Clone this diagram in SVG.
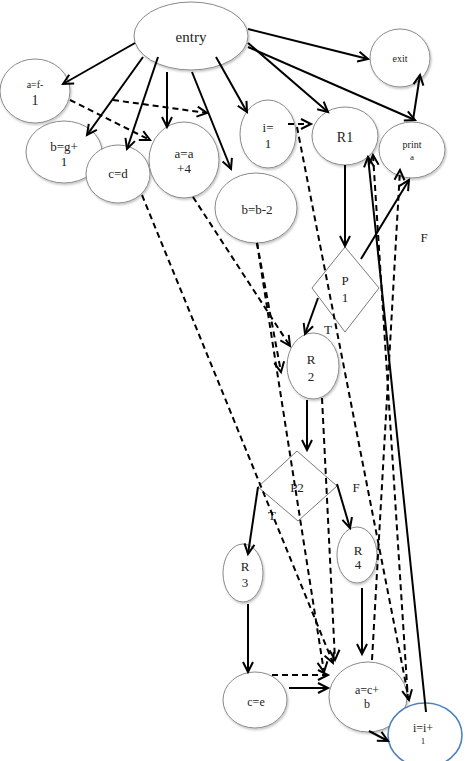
<svg xmlns="http://www.w3.org/2000/svg" width="474" height="761" viewBox="0 0 474 761">
<style>
.n{fill:#fff;stroke:#8a8a8a;stroke-width:1;filter:url(#sh)}
.d{fill:#fff;stroke:#7a7a7a;stroke-width:1}
.b{fill:#fff;stroke:#4f81bd;stroke-width:1.6}
text{font-family:"Liberation Serif","Times New Roman",serif;fill:#222;text-anchor:middle}
.s{stroke:#000;stroke-width:2;fill:none;marker-end:url(#a)}
.ds{stroke:#000;stroke-width:2;fill:none;stroke-dasharray:6 4;marker-end:url(#a)}
</style>
<defs>
<filter id="sh" x="-20%" y="-20%" width="140%" height="140%"><feDropShadow dx="1" dy="1.5" stdDeviation="1" flood-color="#000" flood-opacity="0.25"/></filter>
<marker id="a" viewBox="0 0 12 12" refX="11" refY="6" markerWidth="12" markerHeight="12" markerUnits="userSpaceOnUse" orient="auto" overflow="visible"><path d="M1,1 L11,6 L1,11" fill="none" stroke="#000" stroke-width="2"/></marker>
</defs>
<rect width="474" height="761" fill="#fff"/>
<g id="entry"><ellipse class="n" cx="191" cy="36" rx="57" ry="34"/><text x="191" y="42" font-size="15">entry</text></g>
<g id="exit"><ellipse class="n" cx="400" cy="58" rx="30" ry="29"/><text x="400" y="62" font-size="10">exit</text></g>
<g id="afm1"><ellipse class="n" cx="35" cy="91" rx="35" ry="32"/><text x="35" y="88" font-size="10">a=f-</text><text x="35" y="105" font-size="14">1</text></g>
<g id="bgp1"><ellipse class="n" cx="64" cy="152" rx="38" ry="31"/><text x="64" y="151" font-size="13">b=g+</text><text x="64" y="166" font-size="13">1</text></g>
<g id="cd"><ellipse class="n" cx="118" cy="174" rx="32" ry="29"/><text x="118" y="178" font-size="13">c=d</text></g>
<g id="aap4"><ellipse class="n" cx="184" cy="160" rx="35" ry="38"/><text x="184" y="158" font-size="13">a=a</text><text x="184" y="173" font-size="13">+4</text></g>
<g id="i1"><ellipse class="n" cx="268" cy="134" rx="28" ry="34"/><text x="268" y="132" font-size="13">i=</text><text x="268" y="148" font-size="13">1</text></g>
<g id="R1"><ellipse class="n" cx="345" cy="136" rx="33" ry="29"/><text x="345" y="142" font-size="14">R1</text></g>
<g id="printa"><ellipse class="n" cx="412" cy="150" rx="33" ry="28"/><text x="412" y="148" font-size="10">print</text><text x="412" y="160" font-size="9">a</text></g>
<g id="bbm2"><ellipse class="n" cx="256" cy="208" rx="41" ry="35"/><text x="257" y="214" font-size="13">b=b-2</text></g>
<g id="P1"><polygon class="d" points="345,247 379,288 345,332 312,288"/><text x="345" y="285" font-size="13">P</text><text x="345" y="302" font-size="13">1</text></g>
<g id="R2"><ellipse class="n" cx="313" cy="366" rx="26" ry="33"/><text x="311" y="364" font-size="13">R</text><text x="311" y="381" font-size="13">2</text></g>
<g id="P2"><polygon class="d" points="297,451 337,486 298,521 258,487"/><text x="297" y="492" font-size="13">P2</text></g>
<g id="R3"><ellipse class="n" cx="243" cy="573" rx="20" ry="29"/><text x="245" y="571" font-size="13">R</text><text x="245" y="587" font-size="13">3</text></g>
<g id="R4"><ellipse class="n" cx="357" cy="555" rx="20" ry="28"/><text x="358" y="555" font-size="13">R</text><text x="358" y="569" font-size="13">4</text></g>
<g id="ce"><ellipse class="n" cx="255" cy="700" rx="32" ry="28"/><text x="256" y="706" font-size="12">c=e</text></g>
<g id="acpb"><ellipse class="n" cx="368" cy="697" rx="39" ry="35"/><text x="367" y="694" font-size="12">a=c+</text><text x="367" y="708" font-size="12">b</text></g>
<g id="iip1"><ellipse class="b" cx="425" cy="735" rx="37" ry="32"/><text x="423" y="732" font-size="12">i=i+</text><text x="423" y="744" font-size="9">1</text></g>
<g id="labels"><text x="328" y="334" font-size="13">T</text><text x="424" y="242" font-size="13">F</text><text x="272" y="520" font-size="13">T</text><text x="356" y="492" font-size="13">F</text></g>
<g id="connectors">
<path class="s" d="M135,43 L63,84"/>
<path class="s" d="M143,57 L87,135"/>
<path class="s" d="M158,57 L127,149"/>
<path class="s" d="M167,72 L167,127"/>
<path class="s" d="M192,72 L231,169"/>
<path class="s" d="M216,57 L247,112"/>
<path class="s" d="M248,43 L328,112"/>
<path class="s" d="M248,47 L415,120"/>
<path class="s" d="M248,29 L368,59"/>
<path class="s" d="M413,120 L420,75"/>
<path class="s" d="M345,165 L345,246"/>
<path class="s" d="M361,259 L409,180"/>
<path class="s" d="M318,298 L305,334"/>
<path class="s" d="M307,400 L307,450"/>
<path class="s" d="M258,487 L248,554"/>
<path class="s" d="M337,484 L350,528"/>
<path class="s" d="M248,604 L248,672"/>
<path class="s" d="M362,588 L362,654"/>
<path class="s" d="M289,688 L328,688"/>
<path class="s" d="M369,731 L388,741"/>
<path class="s" d="M426,712 L368,157"/>
<path class="ds" d="M70,100 L150,140"/>
<path class="ds" d="M113,100 L207,113"/>
<path class="ds" d="M288,124 L311,124"/>
<path class="ds" d="M297,127 L409,700"/>
<path class="ds" d="M408,700 L373,155"/>
<path class="ds" d="M372,660 L400,170"/>
<path class="ds" d="M142,195 L333,663"/>
<path class="ds" d="M193,197 L290,346"/>
<path class="ds" d="M257,243 L281,372"/>
<path class="ds" d="M257,243 L324,672"/>
<path class="ds" d="M322,398 L335,660"/>
<path class="ds" d="M272,675 L328,675"/>
</g>
</svg>
